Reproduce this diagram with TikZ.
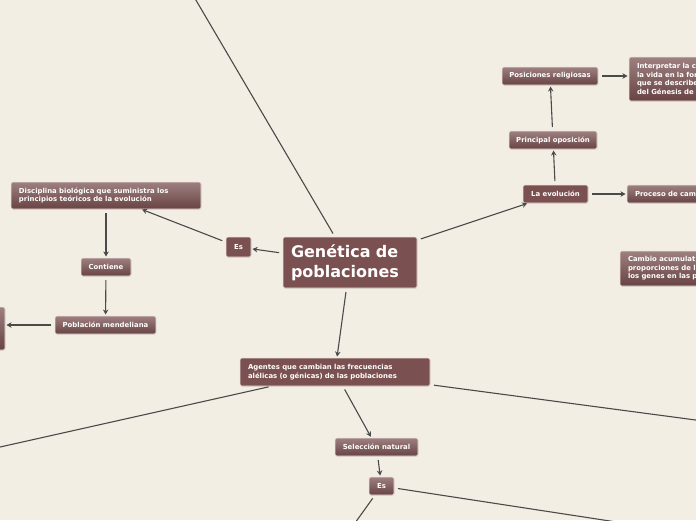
\documentclass[tikz,border=0pt]{standalone}
\usepackage{fontspec}
\setmainfont{DejaVu Sans}
\usetikzlibrary{arrows.meta,shadows}
\definecolor{bg}{HTML}{F3EEE3}
\definecolor{boxflat}{HTML}{7B5050}
\definecolor{boxtop}{HTML}{9E8080}
\definecolor{boxbot}{HTML}{684343}
\definecolor{edgec}{HTML}{4A4A4A}
\definecolor{rim}{HTML}{EDE3E0}
\begin{document}
\begin{tikzpicture}[x=1pt,y=-1pt,
 base/.style={rounded corners=2pt, draw=rim, line width=0.6pt, text=white,
   font=\fontsize{6.9}{8.5}\selectfont\bfseries, inner sep=0pt, outer sep=0pt,
   drop shadow={opacity=0.2,shadow xshift=0.6pt,shadow yshift=-0.8pt}},
 flat/.style={base, fill=boxflat},
 grad/.style={base, top color=boxtop, bottom color=boxbot},
 conn/.style={draw=edgec, line width=1.1pt, shorten <=4pt, shorten >=1.5pt},
 arr/.style={conn, -{Stealth[length=5pt,width=5.5pt]}},
]
\useasboundingbox (0,0) rectangle (696,520);
\fill[bg] (0,0) rectangle (696,520);
\clip (0,0) rectangle (696,520);

% nodes
\node[flat, minimum width=134pt, minimum height=51pt, text width=118pt, align=left,
      font=\fontsize{16}{20}\selectfont\bfseries] (main) at (350,262.5) {Genética de\\poblaciones};
\node[flat, minimum width=25pt, minimum height=20pt] (es1) at (238.5,247) {Es};
\node[grad, minimum width=190pt, minimum height=27pt, text width=174pt, align=left] (disc) at (106,195.5)
  {Disciplina biológica que suministra los\\principios teóricos de la evolución};
\node[grad, minimum width=50pt, minimum height=18pt] (cont) at (106,267) {Contiene};
\node[grad, minimum width=101pt, minimum height=18pt] (pobl) at (105.5,325) {Población mendeliana};
\node[grad, minimum width=60pt, minimum height=43pt, anchor=east] (leftn) at (5,328.5) {};
\node[flat, minimum width=190pt, minimum height=28pt, text width=174pt, align=left] (agentes) at (335,372)
  {Agentes que cambian las frecuencias\\alélicas (o génicas) de las poblaciones};
\node[grad, minimum width=83pt, minimum height=18pt] (sel) at (376.5,447) {Selección natural};
\node[grad, minimum width=25pt, minimum height=18pt] (es2) at (381.5,486) {Es};
\node[flat, minimum width=65pt, minimum height=18pt] (evol) at (555.5,194) {La evolución};
\node[grad, minimum width=110pt, minimum height=18pt, text width=94pt, align=left, anchor=west] (proc) at (627,194)
  {Proceso de cam};
\node[grad, minimum width=88pt, minimum height=18pt] (princ) at (553,140) {Principal oposición};
\node[grad, minimum width=96pt, minimum height=18pt] (posic) at (550,76) {Posiciones religiosas};
\node[grad, minimum width=110pt, minimum height=44pt, text width=94pt, align=left, anchor=north west] (interp) at (629,57)
  {Interpretar la c\\la vida en la for\\que se describe\\del Génesis de};
\node[grad, minimum width=110pt, minimum height=35pt, text width=94pt, align=left, anchor=north west] (cambio) at (620,251)
  {Cambio acumulat\\proporciones de l\\los genes en las p};

% free ends beyond the frame
\coordinate (topend) at (190,-10);
\coordinate (lend) at (-20,451.5);
\coordinate (rend) at (716,422.7);
\coordinate (r2end) at (623,523);
\coordinate (dend) at (350,530);

% connectors
\draw[conn] (main) -- (topend);
\draw[arr] (main) -- (es1);
\draw[arr] (es1) -- (disc);
\draw[arr] (disc) -- (cont);
\draw[arr] (cont) -- (pobl);
\draw[arr] (pobl.west) -- (pobl.west -| leftn.east);
\draw[arr] (main) -- (agentes);
\draw[arr] (main) -- (evol);
\draw[arr] (evol) -- (princ);
\draw[arr] (princ) -- (posic);
\draw[arr] (posic.east) -- (posic.east -| interp.west);
\draw[arr] (evol) -- (proc);
\draw[arr] (agentes) -- (sel);
\draw[arr] (sel) -- (es2);
\draw[conn] (agentes) -- (lend);
\draw[conn] (agentes) -- (rend);
\draw[conn] (es2) -- (r2end);
\draw[conn] (es2) -- (dend);
\end{tikzpicture}
\end{document}
